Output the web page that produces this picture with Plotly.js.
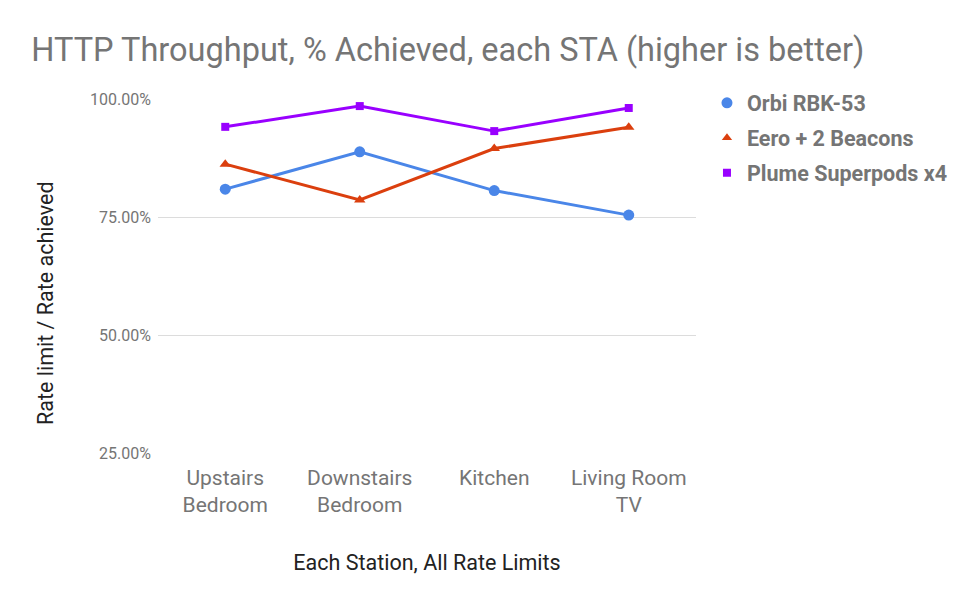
<!DOCTYPE html>
<html>
<head>
<meta charset="utf-8">
<script src="https://cdn.plot.ly/plotly-3.0.1.min.js"></script>
<style>html,body{margin:0;padding:0;background:#fff;}#chart{width:980px;height:606px;}</style>
</head>
<body>
<div id="chart"></div>
<script>
var categories = ["Upstairs<br>Bedroom", "Downstairs<br>Bedroom", "Kitchen", "Living Room<br>TV"];
var seriesNames = ["Orbi RBK-53", "Eero + 2 Beacons", "Plume Superpods x4"];
var orbi = [0.809, 0.888, 0.806, 0.754];
var eero = [0.862, 0.786, 0.895, 0.940];
var plume = [0.941, 0.985, 0.932, 0.981];
var yTicks = [0.25, 0.50, 0.75, 1.00];

var colors = ["#4a86e8", "#db3f0e", "#9900ff"];
var symbols = ["circle", "triangle-up", "square"];
var sizes = [11, 10, 8];
var legendSizes = [11, 9, 8];
var data = [];
[orbi, eero, plume].forEach(function (vals, i) {
  data.push({
    x: categories, y: vals, type: "scatter", mode: "lines+markers",
    name: seriesNames[i], showlegend: false, legendgroup: "g" + i,
    line: {color: colors[i], width: 3},
    marker: {color: colors[i], symbol: symbols[i], size: sizes[i]},
    hoverinfo: "x+y+name"
  });
});
seriesNames.forEach(function (nm, i) {
  data.push({
    x: [categories[0]], y: [null], type: "scatter", mode: "markers",
    name: nm, showlegend: true, legendgroup: "g" + i,
    marker: {color: colors[i], symbol: symbols[i], size: legendSizes[i]}
  });
});

var layout = {
  width: 980, height: 606,
  font: {family: "Roboto, sans-serif", color: "#757575"},
  paper_bgcolor: "#fff", plot_bgcolor: "#fff",
  title: {text: "HTTP Throughput, % Achieved, each STA (higher is better)", x: 0.032, xanchor: "left", y: 0.918, yanchor: "middle", font: {size: 32.5, color: "#757575"}},
  margin: {l: 158, r: 284, t: 99, b: 153},
  showlegend: true,
  legend: {x: 1.0204, xanchor: "left", y: 1.047, yanchor: "top", font: {size: 21.5, color: "#757575", weight: "bold"}, tracegroupgap: 4, itemwidth: 30},
  xaxis: {
    type: "category", range: [-0.5, 3.5], showgrid: false, zeroline: false, showline: false,
    ticks: "", tickfont: {size: 21, color: "#757575"}, ticklabelstandoff: 10,
    title: {text: "Each Station, All Rate Limits", font: {size: 21.5, color: "#222"}, standoff: 38}
  },
  yaxis: {
    range: [0.25, 1.0], tickvals: yTicks, tickformat: ".2%", showgrid: true, gridcolor: "#dcdcdc", gridwidth: 1,
    zeroline: false, showline: false, ticks: "", tickfont: {size: 16, color: "#757575"}, ticklabelstandoff: 6
  },
  annotations: [{
    text: "Rate limit / Rate achieved", xref: "paper", yref: "paper",
    x: (45 - 158) / 538, y: (453 - 303) / 354, xanchor: "center", yanchor: "middle",
    textangle: -90, showarrow: false, font: {size: 21.5, color: "#222"}
  }]
};
Plotly.newPlot("chart", data, layout, {displayModeBar: false});
</script>
</body>
</html>
